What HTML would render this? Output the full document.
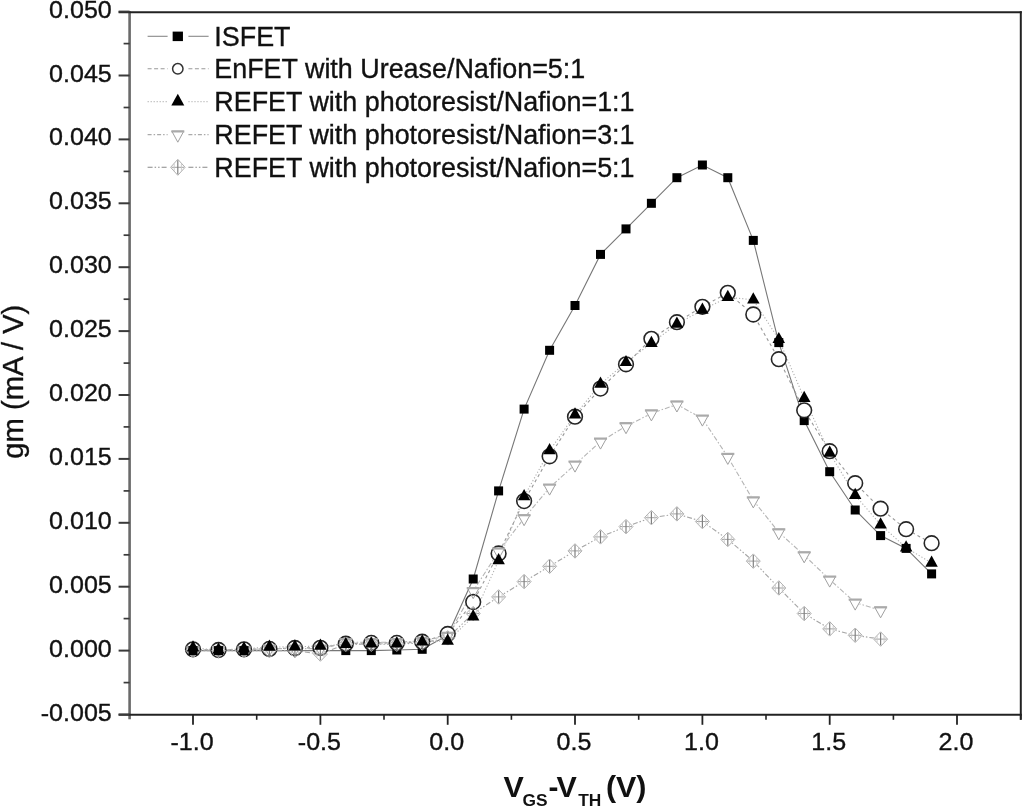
<!DOCTYPE html>
<html><head><meta charset="utf-8"><title>gm vs VGS-VTH</title>
<style>html,body{margin:0;padding:0;background:#fff;}body{width:1024px;height:808px;position:relative;overflow:hidden;}</style>
</head><body>
<svg width="1024" height="808" viewBox="0 0 1024 808" style="position:absolute;left:0;top:0;filter:blur(0.35px)">
<rect width="1024" height="808" fill="#fff"/>
<polyline points="193.0,650.6 218.5,650.6 244.0,650.6 269.4,650.6 294.9,650.6 320.4,650.6 345.8,650.6 371.3,650.6 396.8,650.0 422.2,649.3 447.7,635.3 473.2,579.0 498.6,490.9 524.1,409.1 549.6,350.3 575.0,305.5 600.5,254.4 626.0,228.9 651.4,203.3 676.9,177.7 702.4,165.0 727.8,177.7 753.3,240.4 778.8,342.6 804.2,420.6 829.7,471.7 855.2,510.0 880.6,535.6 906.1,548.4 931.6,573.9" fill="none" stroke="#777" stroke-width="1.1"/>
<polyline points="193.0,649.3 218.5,650.0 244.0,649.3 269.4,648.9 294.9,648.0 320.4,647.8 345.8,643.7 371.3,642.9 396.8,642.9 422.2,641.7 447.7,634.0 473.2,602.0 498.6,553.5 524.1,501.1 549.6,456.3 575.0,416.7 600.5,388.6 626.0,364.3 651.4,338.8 676.9,322.2 702.4,306.8 727.8,292.8 753.3,314.5 778.8,359.2 804.2,410.3 829.7,451.2 855.2,483.2 880.6,508.7 906.1,529.2 931.6,543.2" fill="none" stroke="#999" stroke-width="1.1" stroke-dasharray="3 3"/>
<polyline points="193.0,647.8 218.5,650.1 244.0,648.7 269.4,647.1 294.9,646.7 320.4,646.1 345.8,644.4 371.3,643.8 396.8,643.8 422.2,641.8 447.7,641.0 473.2,616.7 498.6,560.5 524.1,496.6 549.6,450.6 575.0,414.8 600.5,384.1 626.0,362.4 651.4,343.2 676.9,324.1 702.4,310.0 727.8,297.2 753.3,299.8 778.8,339.4 804.2,398.2 829.7,453.1 855.2,495.3 880.6,524.7 906.1,547.7 931.6,563.0" fill="none" stroke="#b0b0b0" stroke-width="1.1" stroke-dasharray="1.2 2"/>
<defs><mask id="m4" maskUnits="userSpaceOnUse" x="0" y="0" width="1024" height="808"><rect width="1024" height="808" fill="#fff"/><polygon points="185.5,645.7 200.5,645.7 193.0,658.7" fill="#000"/><polygon points="211.0,645.7 226.0,645.7 218.5,658.7" fill="#000"/><polygon points="236.5,645.7 251.5,645.7 244.0,658.7" fill="#000"/><polygon points="261.9,644.4 276.9,644.4 269.4,657.4" fill="#000"/><polygon points="287.4,644.4 302.4,644.4 294.9,657.4" fill="#000"/><polygon points="312.9,644.4 327.9,644.4 320.4,657.4" fill="#000"/><polygon points="338.3,638.0 353.3,638.0 345.8,651.0" fill="#000"/><polygon points="363.8,638.0 378.8,638.0 371.3,651.0" fill="#000"/><polygon points="389.3,638.0 404.3,638.0 396.8,651.0" fill="#000"/><polygon points="414.7,636.7 429.7,636.7 422.2,649.7" fill="#000"/><polygon points="440.2,631.6 455.2,631.6 447.7,644.6" fill="#000"/><polygon points="465.7,586.9 480.7,586.9 473.2,599.9" fill="#000"/><polygon points="491.1,547.3 506.1,547.3 498.6,560.3" fill="#000"/><polygon points="516.6,514.0 531.6,514.0 524.1,527.0" fill="#000"/><polygon points="542.1,483.4 557.1,483.4 549.6,496.4" fill="#000"/><polygon points="567.5,460.4 582.5,460.4 575.0,473.4" fill="#000"/><polygon points="593.0,437.4 608.0,437.4 600.5,450.4" fill="#000"/><polygon points="618.5,422.0 633.5,422.0 626.0,435.0" fill="#000"/><polygon points="643.9,409.2 658.9,409.2 651.4,422.2" fill="#000"/><polygon points="669.4,400.3 684.4,400.3 676.9,413.3" fill="#000"/><polygon points="694.9,414.4 709.9,414.4 702.4,427.4" fill="#000"/><polygon points="720.3,452.7 735.3,452.7 727.8,465.7" fill="#000"/><polygon points="745.8,496.2 760.8,496.2 753.3,509.2" fill="#000"/><polygon points="771.3,528.1 786.3,528.1 778.8,541.1" fill="#000"/><polygon points="796.7,551.1 811.7,551.1 804.2,564.1" fill="#000"/><polygon points="822.2,575.4 837.2,575.4 829.7,588.4" fill="#000"/><polygon points="847.7,598.4 862.7,598.4 855.2,611.4" fill="#000"/><polygon points="873.1,606.1 888.1,606.1 880.6,619.1" fill="#000"/></mask><mask id="m5" maskUnits="userSpaceOnUse" x="0" y="0" width="1024" height="808"><rect width="1024" height="808" fill="#fff"/><polygon points="193.0,642.6 200.8,650.6 193.0,658.6 185.2,650.6" fill="#000"/><polygon points="218.5,642.6 226.3,650.6 218.5,658.6 210.7,650.6" fill="#000"/><polygon points="244.0,642.6 251.8,650.6 244.0,658.6 236.2,650.6" fill="#000"/><polygon points="269.4,642.6 277.2,650.6 269.4,658.6 261.6,650.6" fill="#000"/><polygon points="294.9,642.6 302.7,650.6 294.9,658.6 287.1,650.6" fill="#000"/><polygon points="320.4,646.1 328.2,654.1 320.4,662.1 312.6,654.1" fill="#000"/><polygon points="345.8,636.2 353.6,644.2 345.8,652.2 338.0,644.2" fill="#000"/><polygon points="371.3,636.2 379.1,644.2 371.3,652.2 363.5,644.2" fill="#000"/><polygon points="396.8,636.2 404.6,644.2 396.8,652.2 389.0,644.2" fill="#000"/><polygon points="422.2,634.9 430.0,642.9 422.2,650.9 414.4,642.9" fill="#000"/><polygon points="447.7,629.8 455.5,637.8 447.7,645.8 439.9,637.8" fill="#000"/><polygon points="473.2,605.5 481.0,613.5 473.2,621.5 465.4,613.5" fill="#000"/><polygon points="498.6,588.9 506.4,596.9 498.6,604.9 490.8,596.9" fill="#000"/><polygon points="524.1,573.6 531.9,581.6 524.1,589.6 516.3,581.6" fill="#000"/><polygon points="549.6,558.3 557.4,566.3 549.6,574.3 541.8,566.3" fill="#000"/><polygon points="575.0,542.9 582.8,550.9 575.0,558.9 567.2,550.9" fill="#000"/><polygon points="600.5,528.9 608.3,536.9 600.5,544.9 592.7,536.9" fill="#000"/><polygon points="626.0,518.6 633.8,526.6 626.0,534.6 618.2,526.6" fill="#000"/><polygon points="651.4,509.7 659.2,517.7 651.4,525.7 643.6,517.7" fill="#000"/><polygon points="676.9,505.9 684.7,513.9 676.9,521.9 669.1,513.9" fill="#000"/><polygon points="702.4,513.5 710.2,521.5 702.4,529.5 694.6,521.5" fill="#000"/><polygon points="727.8,531.4 735.6,539.4 727.8,547.4 720.0,539.4" fill="#000"/><polygon points="753.3,553.1 761.1,561.1 753.3,569.1 745.5,561.1" fill="#000"/><polygon points="778.8,580.0 786.6,588.0 778.8,596.0 771.0,588.0" fill="#000"/><polygon points="804.2,605.5 812.0,613.5 804.2,621.5 796.4,613.5" fill="#000"/><polygon points="829.7,620.9 837.5,628.9 829.7,636.9 821.9,628.9" fill="#000"/><polygon points="855.2,627.3 863.0,635.3 855.2,643.3 847.4,635.3" fill="#000"/><polygon points="880.6,631.1 888.4,639.1 880.6,647.1 872.8,639.1" fill="#000"/></mask></defs>
<polyline points="193.0,649.9 218.5,649.9 244.0,649.9 269.4,648.6 294.9,648.6 320.4,648.6 345.8,642.2 371.3,642.2 396.8,642.2 422.2,640.9 447.7,635.8 473.2,591.1 498.6,551.5 524.1,518.2 549.6,487.6 575.0,464.6 600.5,441.6 626.0,426.2 651.4,413.4 676.9,404.5 702.4,418.6 727.8,456.9 753.3,500.4 778.8,532.3 804.2,555.3 829.7,579.6 855.2,602.6 880.6,610.3" mask="url(#m4)" fill="none" stroke="#b5b5b5" stroke-width="1.1" stroke-dasharray="5 2 1.5 2"/>
<polyline points="193.0,650.6 218.5,650.6 244.0,650.6 269.4,650.6 294.9,650.6 320.4,654.1 345.8,644.2 371.3,644.2 396.8,644.2 422.2,642.9 447.7,637.8 473.2,613.5 498.6,596.9 524.1,581.6 549.6,566.3 575.0,550.9 600.5,536.9 626.0,526.6 651.4,517.7 676.9,513.9 702.4,521.5 727.8,539.4 753.3,561.1 778.8,588.0 804.2,613.5 829.7,628.9 855.2,635.3 880.6,639.1" mask="url(#m5)" fill="none" stroke="#a5a5a5" stroke-width="1.1" stroke-dasharray="5 2 1.5 2 1.5 2"/>
<rect x="264.9" y="646.1" width="9.0" height="9.0" fill="#000"/>
<rect x="290.4" y="646.1" width="9.0" height="9.0" fill="#000"/>
<rect x="315.9" y="646.1" width="9.0" height="9.0" fill="#000"/>
<rect x="341.3" y="646.1" width="9.0" height="9.0" fill="#000"/>
<rect x="366.8" y="646.1" width="9.0" height="9.0" fill="#000"/>
<rect x="392.3" y="645.5" width="9.0" height="9.0" fill="#000"/>
<rect x="417.7" y="644.8" width="9.0" height="9.0" fill="#000"/>
<rect x="443.2" y="630.8" width="9.0" height="9.0" fill="#000"/>
<rect x="468.7" y="574.5" width="9.0" height="9.0" fill="#000"/>
<rect x="494.1" y="486.4" width="9.0" height="9.0" fill="#000"/>
<rect x="519.6" y="404.6" width="9.0" height="9.0" fill="#000"/>
<rect x="545.1" y="345.8" width="9.0" height="9.0" fill="#000"/>
<rect x="570.5" y="301.0" width="9.0" height="9.0" fill="#000"/>
<rect x="596.0" y="249.9" width="9.0" height="9.0" fill="#000"/>
<rect x="621.5" y="224.4" width="9.0" height="9.0" fill="#000"/>
<rect x="646.9" y="198.8" width="9.0" height="9.0" fill="#000"/>
<rect x="672.4" y="173.2" width="9.0" height="9.0" fill="#000"/>
<rect x="697.9" y="160.5" width="9.0" height="9.0" fill="#000"/>
<rect x="723.3" y="173.2" width="9.0" height="9.0" fill="#000"/>
<rect x="748.8" y="235.9" width="9.0" height="9.0" fill="#000"/>
<rect x="774.3" y="338.1" width="9.0" height="9.0" fill="#000"/>
<rect x="799.7" y="416.1" width="9.0" height="9.0" fill="#000"/>
<rect x="825.2" y="467.2" width="9.0" height="9.0" fill="#000"/>
<rect x="850.7" y="505.5" width="9.0" height="9.0" fill="#000"/>
<rect x="876.1" y="531.1" width="9.0" height="9.0" fill="#000"/>
<rect x="901.6" y="543.9" width="9.0" height="9.0" fill="#000"/>
<rect x="927.1" y="569.4" width="9.0" height="9.0" fill="#000"/>
<circle cx="193.0" cy="649.3" r="7.35" fill="#fff" stroke="#262626" stroke-width="1.6"/>
<circle cx="218.5" cy="650.0" r="7.35" fill="#fff" stroke="#262626" stroke-width="1.6"/>
<circle cx="244.0" cy="649.3" r="7.35" fill="#fff" stroke="#262626" stroke-width="1.6"/>
<circle cx="269.4" cy="648.9" r="7.35" fill="#fff" stroke="#262626" stroke-width="1.6"/>
<circle cx="294.9" cy="648.0" r="7.35" fill="#fff" stroke="#262626" stroke-width="1.6"/>
<circle cx="320.4" cy="647.8" r="7.35" fill="#fff" stroke="#262626" stroke-width="1.6"/>
<circle cx="345.8" cy="643.7" r="7.35" fill="#fff" stroke="#262626" stroke-width="1.6"/>
<circle cx="371.3" cy="642.9" r="7.35" fill="#fff" stroke="#262626" stroke-width="1.6"/>
<circle cx="396.8" cy="642.9" r="7.35" fill="#fff" stroke="#262626" stroke-width="1.6"/>
<circle cx="422.2" cy="641.7" r="7.35" fill="#fff" stroke="#262626" stroke-width="1.6"/>
<circle cx="447.7" cy="634.0" r="7.35" fill="#fff" stroke="#262626" stroke-width="1.6"/>
<circle cx="473.2" cy="602.0" r="7.35" fill="#fff" stroke="#262626" stroke-width="1.6"/>
<circle cx="498.6" cy="553.5" r="7.35" fill="#fff" stroke="#262626" stroke-width="1.6"/>
<circle cx="524.1" cy="501.1" r="7.35" fill="#fff" stroke="#262626" stroke-width="1.6"/>
<circle cx="549.6" cy="456.3" r="7.35" fill="#fff" stroke="#262626" stroke-width="1.6"/>
<circle cx="575.0" cy="416.7" r="7.35" fill="#fff" stroke="#262626" stroke-width="1.6"/>
<circle cx="600.5" cy="388.6" r="7.35" fill="#fff" stroke="#262626" stroke-width="1.6"/>
<circle cx="626.0" cy="364.3" r="7.35" fill="#fff" stroke="#262626" stroke-width="1.6"/>
<circle cx="651.4" cy="338.8" r="7.35" fill="#fff" stroke="#262626" stroke-width="1.6"/>
<circle cx="676.9" cy="322.2" r="7.35" fill="#fff" stroke="#262626" stroke-width="1.6"/>
<circle cx="702.4" cy="306.8" r="7.35" fill="#fff" stroke="#262626" stroke-width="1.6"/>
<circle cx="727.8" cy="292.8" r="7.35" fill="#fff" stroke="#262626" stroke-width="1.6"/>
<circle cx="753.3" cy="314.5" r="7.35" fill="#fff" stroke="#262626" stroke-width="1.6"/>
<circle cx="778.8" cy="359.2" r="7.35" fill="#fff" stroke="#262626" stroke-width="1.6"/>
<circle cx="804.2" cy="410.3" r="7.35" fill="#fff" stroke="#262626" stroke-width="1.6"/>
<circle cx="829.7" cy="451.2" r="7.35" fill="#fff" stroke="#262626" stroke-width="1.6"/>
<circle cx="855.2" cy="483.2" r="7.35" fill="#fff" stroke="#262626" stroke-width="1.6"/>
<circle cx="880.6" cy="508.7" r="7.35" fill="#fff" stroke="#262626" stroke-width="1.6"/>
<circle cx="906.1" cy="529.2" r="7.35" fill="#fff" stroke="#262626" stroke-width="1.6"/>
<circle cx="931.6" cy="543.2" r="7.35" fill="#fff" stroke="#262626" stroke-width="1.6"/>
<polygon points="187.1,646.8 198.9,646.8 193.0,657.4" fill="none" stroke="#a0a0a0" stroke-width="1.0"/><line x1="186.5" y1="646.9" x2="199.5" y2="646.9" stroke="#aaa" stroke-width="2.2"/>
<polygon points="212.6,646.8 224.4,646.8 218.5,657.4" fill="none" stroke="#a0a0a0" stroke-width="1.0"/><line x1="212.0" y1="646.9" x2="225.0" y2="646.9" stroke="#aaa" stroke-width="2.2"/>
<polygon points="238.1,646.8 249.9,646.8 244.0,657.4" fill="none" stroke="#a0a0a0" stroke-width="1.0"/><line x1="237.5" y1="646.9" x2="250.5" y2="646.9" stroke="#aaa" stroke-width="2.2"/>
<polygon points="263.5,645.5 275.3,645.5 269.4,656.1" fill="none" stroke="#a0a0a0" stroke-width="1.0"/><line x1="262.9" y1="645.6" x2="275.9" y2="645.6" stroke="#aaa" stroke-width="2.2"/>
<polygon points="289.0,645.5 300.8,645.5 294.9,656.1" fill="none" stroke="#a0a0a0" stroke-width="1.0"/><line x1="288.4" y1="645.6" x2="301.4" y2="645.6" stroke="#aaa" stroke-width="2.2"/>
<polygon points="314.5,645.5 326.3,645.5 320.4,656.1" fill="none" stroke="#a0a0a0" stroke-width="1.0"/><line x1="313.9" y1="645.6" x2="326.9" y2="645.6" stroke="#aaa" stroke-width="2.2"/>
<polygon points="339.9,639.1 351.7,639.1 345.8,649.7" fill="none" stroke="#a0a0a0" stroke-width="1.0"/><line x1="339.3" y1="639.2" x2="352.3" y2="639.2" stroke="#aaa" stroke-width="2.2"/>
<polygon points="365.4,639.1 377.2,639.1 371.3,649.7" fill="none" stroke="#a0a0a0" stroke-width="1.0"/><line x1="364.8" y1="639.2" x2="377.8" y2="639.2" stroke="#aaa" stroke-width="2.2"/>
<polygon points="390.9,639.1 402.7,639.1 396.8,649.7" fill="none" stroke="#a0a0a0" stroke-width="1.0"/><line x1="390.3" y1="639.2" x2="403.3" y2="639.2" stroke="#aaa" stroke-width="2.2"/>
<polygon points="416.3,637.8 428.1,637.8 422.2,648.4" fill="none" stroke="#a0a0a0" stroke-width="1.0"/><line x1="415.7" y1="637.9" x2="428.7" y2="637.9" stroke="#aaa" stroke-width="2.2"/>
<polygon points="441.8,632.7 453.6,632.7 447.7,643.3" fill="none" stroke="#a0a0a0" stroke-width="1.0"/><line x1="441.2" y1="632.8" x2="454.2" y2="632.8" stroke="#aaa" stroke-width="2.2"/>
<polygon points="467.3,588.0 479.1,588.0 473.2,598.6" fill="none" stroke="#a0a0a0" stroke-width="1.0"/><line x1="466.7" y1="588.1" x2="479.7" y2="588.1" stroke="#aaa" stroke-width="2.2"/>
<polygon points="492.7,548.4 504.5,548.4 498.6,559.0" fill="none" stroke="#a0a0a0" stroke-width="1.0"/><line x1="492.1" y1="548.5" x2="505.1" y2="548.5" stroke="#aaa" stroke-width="2.2"/>
<polygon points="518.2,515.1 530.0,515.1 524.1,525.7" fill="none" stroke="#a0a0a0" stroke-width="1.0"/><line x1="517.6" y1="515.2" x2="530.6" y2="515.2" stroke="#aaa" stroke-width="2.2"/>
<polygon points="543.7,484.5 555.5,484.5 549.6,495.1" fill="none" stroke="#a0a0a0" stroke-width="1.0"/><line x1="543.1" y1="484.6" x2="556.1" y2="484.6" stroke="#aaa" stroke-width="2.2"/>
<polygon points="569.1,461.5 580.9,461.5 575.0,472.1" fill="none" stroke="#a0a0a0" stroke-width="1.0"/><line x1="568.5" y1="461.6" x2="581.5" y2="461.6" stroke="#aaa" stroke-width="2.2"/>
<polygon points="594.6,438.5 606.4,438.5 600.5,449.1" fill="none" stroke="#a0a0a0" stroke-width="1.0"/><line x1="594.0" y1="438.6" x2="607.0" y2="438.6" stroke="#aaa" stroke-width="2.2"/>
<polygon points="620.1,423.1 631.9,423.1 626.0,433.7" fill="none" stroke="#a0a0a0" stroke-width="1.0"/><line x1="619.5" y1="423.2" x2="632.5" y2="423.2" stroke="#aaa" stroke-width="2.2"/>
<polygon points="645.5,410.3 657.3,410.3 651.4,420.9" fill="none" stroke="#a0a0a0" stroke-width="1.0"/><line x1="644.9" y1="410.4" x2="657.9" y2="410.4" stroke="#aaa" stroke-width="2.2"/>
<polygon points="671.0,401.4 682.8,401.4 676.9,412.0" fill="none" stroke="#a0a0a0" stroke-width="1.0"/><line x1="670.4" y1="401.5" x2="683.4" y2="401.5" stroke="#aaa" stroke-width="2.2"/>
<polygon points="696.5,415.5 708.3,415.5 702.4,426.1" fill="none" stroke="#a0a0a0" stroke-width="1.0"/><line x1="695.9" y1="415.6" x2="708.9" y2="415.6" stroke="#aaa" stroke-width="2.2"/>
<polygon points="721.9,453.8 733.7,453.8 727.8,464.4" fill="none" stroke="#a0a0a0" stroke-width="1.0"/><line x1="721.3" y1="453.9" x2="734.3" y2="453.9" stroke="#aaa" stroke-width="2.2"/>
<polygon points="747.4,497.3 759.2,497.3 753.3,507.9" fill="none" stroke="#a0a0a0" stroke-width="1.0"/><line x1="746.8" y1="497.4" x2="759.8" y2="497.4" stroke="#aaa" stroke-width="2.2"/>
<polygon points="772.9,529.2 784.7,529.2 778.8,539.8" fill="none" stroke="#a0a0a0" stroke-width="1.0"/><line x1="772.3" y1="529.3" x2="785.3" y2="529.3" stroke="#aaa" stroke-width="2.2"/>
<polygon points="798.3,552.2 810.1,552.2 804.2,562.8" fill="none" stroke="#a0a0a0" stroke-width="1.0"/><line x1="797.7" y1="552.3" x2="810.7" y2="552.3" stroke="#aaa" stroke-width="2.2"/>
<polygon points="823.8,576.5 835.6,576.5 829.7,587.1" fill="none" stroke="#a0a0a0" stroke-width="1.0"/><line x1="823.2" y1="576.6" x2="836.2" y2="576.6" stroke="#aaa" stroke-width="2.2"/>
<polygon points="849.3,599.5 861.1,599.5 855.2,610.1" fill="none" stroke="#a0a0a0" stroke-width="1.0"/><line x1="848.7" y1="599.6" x2="861.7" y2="599.6" stroke="#aaa" stroke-width="2.2"/>
<polygon points="874.7,607.2 886.5,607.2 880.6,617.8" fill="none" stroke="#a0a0a0" stroke-width="1.0"/><line x1="874.1" y1="607.3" x2="887.1" y2="607.3" stroke="#aaa" stroke-width="2.2"/>
<polygon points="193.0,643.4 200.0,650.6 193.0,657.9 186.0,650.6" fill="none" stroke="#b0b0b0" stroke-width="1.0"/><path d="M187.0,650.6H199.0" stroke="#a0a0a0" stroke-width="1.0"/><path d="M193.0,644.4V656.9" stroke="#808080" stroke-width="1.2"/><path d="M189.5,647.5V653.7M196.5,647.5V653.7" stroke="#c8c8c8" stroke-width="0.9"/>
<polygon points="218.5,643.4 225.5,650.6 218.5,657.9 211.5,650.6" fill="none" stroke="#b0b0b0" stroke-width="1.0"/><path d="M212.5,650.6H224.5" stroke="#a0a0a0" stroke-width="1.0"/><path d="M218.5,644.4V656.9" stroke="#808080" stroke-width="1.2"/><path d="M215.0,647.5V653.7M222.0,647.5V653.7" stroke="#c8c8c8" stroke-width="0.9"/>
<polygon points="244.0,643.4 251.0,650.6 244.0,657.9 237.0,650.6" fill="none" stroke="#b0b0b0" stroke-width="1.0"/><path d="M238.0,650.6H250.0" stroke="#a0a0a0" stroke-width="1.0"/><path d="M244.0,644.4V656.9" stroke="#808080" stroke-width="1.2"/><path d="M240.5,647.5V653.7M247.5,647.5V653.7" stroke="#c8c8c8" stroke-width="0.9"/>
<polygon points="269.4,643.4 276.4,650.6 269.4,657.9 262.4,650.6" fill="none" stroke="#b0b0b0" stroke-width="1.0"/><path d="M263.4,650.6H275.4" stroke="#a0a0a0" stroke-width="1.0"/><path d="M269.4,644.4V656.9" stroke="#808080" stroke-width="1.2"/><path d="M265.9,647.5V653.7M272.9,647.5V653.7" stroke="#c8c8c8" stroke-width="0.9"/>
<polygon points="294.9,643.4 301.9,650.6 294.9,657.9 287.9,650.6" fill="none" stroke="#b0b0b0" stroke-width="1.0"/><path d="M288.9,650.6H300.9" stroke="#a0a0a0" stroke-width="1.0"/><path d="M294.9,644.4V656.9" stroke="#808080" stroke-width="1.2"/><path d="M291.4,647.5V653.7M298.4,647.5V653.7" stroke="#c8c8c8" stroke-width="0.9"/>
<polygon points="320.4,646.8 327.4,654.1 320.4,661.3 313.4,654.1" fill="none" stroke="#b0b0b0" stroke-width="1.0"/><path d="M314.4,654.1H326.4" stroke="#a0a0a0" stroke-width="1.0"/><path d="M320.4,647.8V660.3" stroke="#808080" stroke-width="1.2"/><path d="M316.9,650.9V657.2M323.9,650.9V657.2" stroke="#c8c8c8" stroke-width="0.9"/>
<polygon points="345.8,637.0 352.8,644.2 345.8,651.5 338.8,644.2" fill="none" stroke="#b0b0b0" stroke-width="1.0"/><path d="M339.8,644.2H351.8" stroke="#a0a0a0" stroke-width="1.0"/><path d="M345.8,638.0V650.5" stroke="#808080" stroke-width="1.2"/><path d="M342.3,641.1V647.3M349.3,641.1V647.3" stroke="#c8c8c8" stroke-width="0.9"/>
<polygon points="371.3,637.0 378.3,644.2 371.3,651.5 364.3,644.2" fill="none" stroke="#b0b0b0" stroke-width="1.0"/><path d="M365.3,644.2H377.3" stroke="#a0a0a0" stroke-width="1.0"/><path d="M371.3,638.0V650.5" stroke="#808080" stroke-width="1.2"/><path d="M367.8,641.1V647.3M374.8,641.1V647.3" stroke="#c8c8c8" stroke-width="0.9"/>
<polygon points="396.8,637.0 403.8,644.2 396.8,651.5 389.8,644.2" fill="none" stroke="#b0b0b0" stroke-width="1.0"/><path d="M390.8,644.2H402.8" stroke="#a0a0a0" stroke-width="1.0"/><path d="M396.8,638.0V650.5" stroke="#808080" stroke-width="1.2"/><path d="M393.3,641.1V647.3M400.3,641.1V647.3" stroke="#c8c8c8" stroke-width="0.9"/>
<polygon points="422.2,635.7 429.2,642.9 422.2,650.2 415.2,642.9" fill="none" stroke="#b0b0b0" stroke-width="1.0"/><path d="M416.2,642.9H428.2" stroke="#a0a0a0" stroke-width="1.0"/><path d="M422.2,636.7V649.2" stroke="#808080" stroke-width="1.2"/><path d="M418.7,639.8V646.1M425.7,639.8V646.1" stroke="#c8c8c8" stroke-width="0.9"/>
<polygon points="447.7,630.6 454.7,637.8 447.7,645.1 440.7,637.8" fill="none" stroke="#b0b0b0" stroke-width="1.0"/><path d="M441.7,637.8H453.7" stroke="#a0a0a0" stroke-width="1.0"/><path d="M447.7,631.6V644.1" stroke="#808080" stroke-width="1.2"/><path d="M444.2,634.7V640.9M451.2,634.7V640.9" stroke="#c8c8c8" stroke-width="0.9"/>
<polygon points="473.2,606.3 480.2,613.5 473.2,620.8 466.2,613.5" fill="none" stroke="#b0b0b0" stroke-width="1.0"/><path d="M467.2,613.5H479.2" stroke="#a0a0a0" stroke-width="1.0"/><path d="M473.2,607.3V619.8" stroke="#808080" stroke-width="1.2"/><path d="M469.7,610.4V616.7M476.7,610.4V616.7" stroke="#c8c8c8" stroke-width="0.9"/>
<polygon points="498.6,589.7 505.6,596.9 498.6,604.2 491.6,596.9" fill="none" stroke="#b0b0b0" stroke-width="1.0"/><path d="M492.6,596.9H504.6" stroke="#a0a0a0" stroke-width="1.0"/><path d="M498.6,590.7V603.2" stroke="#808080" stroke-width="1.2"/><path d="M495.1,593.8V600.0M502.1,593.8V600.0" stroke="#c8c8c8" stroke-width="0.9"/>
<polygon points="524.1,574.3 531.1,581.6 524.1,588.8 517.1,581.6" fill="none" stroke="#b0b0b0" stroke-width="1.0"/><path d="M518.1,581.6H530.1" stroke="#a0a0a0" stroke-width="1.0"/><path d="M524.1,575.3V587.8" stroke="#808080" stroke-width="1.2"/><path d="M520.6,578.5V584.7M527.6,578.5V584.7" stroke="#c8c8c8" stroke-width="0.9"/>
<polygon points="549.6,559.0 556.6,566.3 549.6,573.5 542.6,566.3" fill="none" stroke="#b0b0b0" stroke-width="1.0"/><path d="M543.6,566.3H555.6" stroke="#a0a0a0" stroke-width="1.0"/><path d="M549.6,560.0V572.5" stroke="#808080" stroke-width="1.2"/><path d="M546.1,563.1V569.4M553.1,563.1V569.4" stroke="#c8c8c8" stroke-width="0.9"/>
<polygon points="575.0,543.7 582.0,550.9 575.0,558.2 568.0,550.9" fill="none" stroke="#b0b0b0" stroke-width="1.0"/><path d="M569.0,550.9H581.0" stroke="#a0a0a0" stroke-width="1.0"/><path d="M575.0,544.7V557.2" stroke="#808080" stroke-width="1.2"/><path d="M571.5,547.8V554.0M578.5,547.8V554.0" stroke="#c8c8c8" stroke-width="0.9"/>
<polygon points="600.5,529.6 607.5,536.9 600.5,544.1 593.5,536.9" fill="none" stroke="#b0b0b0" stroke-width="1.0"/><path d="M594.5,536.9H606.5" stroke="#a0a0a0" stroke-width="1.0"/><path d="M600.5,530.6V543.1" stroke="#808080" stroke-width="1.2"/><path d="M597.0,533.7V540.0M604.0,533.7V540.0" stroke="#c8c8c8" stroke-width="0.9"/>
<polygon points="626.0,519.4 633.0,526.6 626.0,533.9 619.0,526.6" fill="none" stroke="#b0b0b0" stroke-width="1.0"/><path d="M620.0,526.6H632.0" stroke="#a0a0a0" stroke-width="1.0"/><path d="M626.0,520.4V532.9" stroke="#808080" stroke-width="1.2"/><path d="M622.5,523.5V529.8M629.5,523.5V529.8" stroke="#c8c8c8" stroke-width="0.9"/>
<polygon points="651.4,510.4 658.4,517.7 651.4,524.9 644.4,517.7" fill="none" stroke="#b0b0b0" stroke-width="1.0"/><path d="M645.4,517.7H657.4" stroke="#a0a0a0" stroke-width="1.0"/><path d="M651.4,511.4V523.9" stroke="#808080" stroke-width="1.2"/><path d="M647.9,514.6V520.8M654.9,514.6V520.8" stroke="#c8c8c8" stroke-width="0.9"/>
<polygon points="676.9,506.6 683.9,513.9 676.9,521.1 669.9,513.9" fill="none" stroke="#b0b0b0" stroke-width="1.0"/><path d="M670.9,513.9H682.9" stroke="#a0a0a0" stroke-width="1.0"/><path d="M676.9,507.6V520.1" stroke="#808080" stroke-width="1.2"/><path d="M673.4,510.7V517.0M680.4,510.7V517.0" stroke="#c8c8c8" stroke-width="0.9"/>
<polygon points="702.4,514.3 709.4,521.5 702.4,528.8 695.4,521.5" fill="none" stroke="#b0b0b0" stroke-width="1.0"/><path d="M696.4,521.5H708.4" stroke="#a0a0a0" stroke-width="1.0"/><path d="M702.4,515.3V527.8" stroke="#808080" stroke-width="1.2"/><path d="M698.9,518.4V524.6M705.9,518.4V524.6" stroke="#c8c8c8" stroke-width="0.9"/>
<polygon points="727.8,532.2 734.8,539.4 727.8,546.7 720.8,539.4" fill="none" stroke="#b0b0b0" stroke-width="1.0"/><path d="M721.8,539.4H733.8" stroke="#a0a0a0" stroke-width="1.0"/><path d="M727.8,533.2V545.7" stroke="#808080" stroke-width="1.2"/><path d="M724.3,536.3V542.5M731.3,536.3V542.5" stroke="#c8c8c8" stroke-width="0.9"/>
<polygon points="753.3,553.9 760.3,561.1 753.3,568.4 746.3,561.1" fill="none" stroke="#b0b0b0" stroke-width="1.0"/><path d="M747.3,561.1H759.3" stroke="#a0a0a0" stroke-width="1.0"/><path d="M753.3,554.9V567.4" stroke="#808080" stroke-width="1.2"/><path d="M749.8,558.0V564.3M756.8,558.0V564.3" stroke="#c8c8c8" stroke-width="0.9"/>
<polygon points="778.8,580.7 785.8,588.0 778.8,595.2 771.8,588.0" fill="none" stroke="#b0b0b0" stroke-width="1.0"/><path d="M772.8,588.0H784.8" stroke="#a0a0a0" stroke-width="1.0"/><path d="M778.8,581.7V594.2" stroke="#808080" stroke-width="1.2"/><path d="M775.3,584.9V591.1M782.3,584.9V591.1" stroke="#c8c8c8" stroke-width="0.9"/>
<polygon points="804.2,606.3 811.2,613.5 804.2,620.8 797.2,613.5" fill="none" stroke="#b0b0b0" stroke-width="1.0"/><path d="M798.2,613.5H810.2" stroke="#a0a0a0" stroke-width="1.0"/><path d="M804.2,607.3V619.8" stroke="#808080" stroke-width="1.2"/><path d="M800.7,610.4V616.7M807.7,610.4V616.7" stroke="#c8c8c8" stroke-width="0.9"/>
<polygon points="829.7,621.6 836.7,628.9 829.7,636.1 822.7,628.9" fill="none" stroke="#b0b0b0" stroke-width="1.0"/><path d="M823.7,628.9H835.7" stroke="#a0a0a0" stroke-width="1.0"/><path d="M829.7,622.6V635.1" stroke="#808080" stroke-width="1.2"/><path d="M826.2,625.7V632.0M833.2,625.7V632.0" stroke="#c8c8c8" stroke-width="0.9"/>
<polygon points="855.2,628.0 862.2,635.3 855.2,642.5 848.2,635.3" fill="none" stroke="#b0b0b0" stroke-width="1.0"/><path d="M849.2,635.3H861.2" stroke="#a0a0a0" stroke-width="1.0"/><path d="M855.2,629.0V641.5" stroke="#808080" stroke-width="1.2"/><path d="M851.7,632.1V638.4M858.7,632.1V638.4" stroke="#c8c8c8" stroke-width="0.9"/>
<polygon points="880.6,631.8 887.6,639.1 880.6,646.3 873.6,639.1" fill="none" stroke="#b0b0b0" stroke-width="1.0"/><path d="M874.6,639.1H886.6" stroke="#a0a0a0" stroke-width="1.0"/><path d="M880.6,632.8V645.3" stroke="#808080" stroke-width="1.2"/><path d="M877.1,636.0V642.2M884.1,636.0V642.2" stroke="#c8c8c8" stroke-width="0.9"/>
<rect x="188.5" y="646.1" width="9.0" height="9.0" fill="#000"/>
<rect x="214.0" y="646.1" width="9.0" height="9.0" fill="#000"/>
<rect x="239.5" y="646.1" width="9.0" height="9.0" fill="#000"/>
<polygon points="186.8,651.5 199.3,651.5 193.0,640.3" fill="#000"/>
<polygon points="212.2,653.8 224.7,653.8 218.5,642.6" fill="#000"/>
<polygon points="237.7,652.4 250.2,652.4 244.0,641.2" fill="#000"/>
<polygon points="263.2,650.8 275.7,650.8 269.4,639.6" fill="#000"/>
<polygon points="288.6,650.4 301.1,650.4 294.9,639.2" fill="#000"/>
<polygon points="314.1,649.8 326.6,649.8 320.4,638.6" fill="#000"/>
<polygon points="339.6,648.1 352.1,648.1 345.8,636.9" fill="#000"/>
<polygon points="365.0,647.5 377.5,647.5 371.3,636.3" fill="#000"/>
<polygon points="390.5,647.5 403.0,647.5 396.8,636.3" fill="#000"/>
<polygon points="416.0,645.5 428.5,645.5 422.2,634.3" fill="#000"/>
<polygon points="441.4,644.7 453.9,644.7 447.7,633.5" fill="#000"/>
<polygon points="466.9,620.4 479.4,620.4 473.2,609.2" fill="#000"/>
<polygon points="492.4,564.2 504.9,564.2 498.6,553.0" fill="#000"/>
<polygon points="517.9,500.3 530.4,500.3 524.1,489.1" fill="#000"/>
<polygon points="543.3,454.3 555.8,454.3 549.6,443.1" fill="#000"/>
<polygon points="568.8,418.5 581.3,418.5 575.0,407.3" fill="#000"/>
<polygon points="594.3,387.8 606.8,387.8 600.5,376.6" fill="#000"/>
<polygon points="619.7,366.1 632.2,366.1 626.0,354.9" fill="#000"/>
<polygon points="645.2,346.9 657.7,346.9 651.4,335.7" fill="#000"/>
<polygon points="670.7,327.8 683.2,327.8 676.9,316.6" fill="#000"/>
<polygon points="696.1,313.7 708.6,313.7 702.4,302.5" fill="#000"/>
<polygon points="721.6,300.9 734.1,300.9 727.8,289.7" fill="#000"/>
<polygon points="747.1,303.5 759.6,303.5 753.3,292.3" fill="#000"/>
<polygon points="772.5,343.1 785.0,343.1 778.8,331.9" fill="#000"/>
<polygon points="798.0,401.9 810.5,401.9 804.2,390.7" fill="#000"/>
<polygon points="823.5,456.8 836.0,456.8 829.7,445.6" fill="#000"/>
<polygon points="848.9,499.0 861.4,499.0 855.2,487.8" fill="#000"/>
<polygon points="874.4,528.4 886.9,528.4 880.6,517.2" fill="#000"/>
<polygon points="899.9,551.4 912.4,551.4 906.1,540.2" fill="#000"/>
<polygon points="925.3,566.7 937.8,566.7 931.6,555.5" fill="#000"/>
<line x1="129.6" y1="11.2" x2="129.6" y2="719.3" stroke="#6a6a6a" stroke-width="2.6"/>
<line x1="118.6" y1="12.2" x2="1021.8" y2="12.2" stroke="#222" stroke-width="2"/>
<line x1="118.6" y1="714.8" x2="1021.8" y2="714.8" stroke="#222" stroke-width="2"/>
<line x1="1020.8" y1="11.2" x2="1020.8" y2="719.8" stroke="#222" stroke-width="2"/>
<line x1="118.6" y1="714.5" x2="129.6" y2="714.5" stroke="#3a3a3a" stroke-width="2"/>
<line x1="118.6" y1="650.6" x2="129.6" y2="650.6" stroke="#3a3a3a" stroke-width="2"/>
<line x1="118.6" y1="586.7" x2="129.6" y2="586.7" stroke="#3a3a3a" stroke-width="2"/>
<line x1="118.6" y1="522.8" x2="129.6" y2="522.8" stroke="#3a3a3a" stroke-width="2"/>
<line x1="118.6" y1="458.9" x2="129.6" y2="458.9" stroke="#3a3a3a" stroke-width="2"/>
<line x1="118.6" y1="395.0" x2="129.6" y2="395.0" stroke="#3a3a3a" stroke-width="2"/>
<line x1="118.6" y1="331.1" x2="129.6" y2="331.1" stroke="#3a3a3a" stroke-width="2"/>
<line x1="118.6" y1="267.2" x2="129.6" y2="267.2" stroke="#3a3a3a" stroke-width="2"/>
<line x1="118.6" y1="203.3" x2="129.6" y2="203.3" stroke="#3a3a3a" stroke-width="2"/>
<line x1="118.6" y1="139.4" x2="129.6" y2="139.4" stroke="#3a3a3a" stroke-width="2"/>
<line x1="118.6" y1="75.5" x2="129.6" y2="75.5" stroke="#3a3a3a" stroke-width="2"/>
<line x1="118.6" y1="11.6" x2="129.6" y2="11.6" stroke="#3a3a3a" stroke-width="2"/>
<line x1="123.6" y1="682.6" x2="129.6" y2="682.6" stroke="#3a3a3a" stroke-width="1.7"/>
<line x1="123.6" y1="618.6" x2="129.6" y2="618.6" stroke="#3a3a3a" stroke-width="1.7"/>
<line x1="123.6" y1="554.8" x2="129.6" y2="554.8" stroke="#3a3a3a" stroke-width="1.7"/>
<line x1="123.6" y1="490.9" x2="129.6" y2="490.9" stroke="#3a3a3a" stroke-width="1.7"/>
<line x1="123.6" y1="426.9" x2="129.6" y2="426.9" stroke="#3a3a3a" stroke-width="1.7"/>
<line x1="123.6" y1="363.1" x2="129.6" y2="363.1" stroke="#3a3a3a" stroke-width="1.7"/>
<line x1="123.6" y1="299.2" x2="129.6" y2="299.2" stroke="#3a3a3a" stroke-width="1.7"/>
<line x1="123.6" y1="235.2" x2="129.6" y2="235.2" stroke="#3a3a3a" stroke-width="1.7"/>
<line x1="123.6" y1="171.4" x2="129.6" y2="171.4" stroke="#3a3a3a" stroke-width="1.7"/>
<line x1="123.6" y1="107.5" x2="129.6" y2="107.5" stroke="#3a3a3a" stroke-width="1.7"/>
<line x1="123.6" y1="43.6" x2="129.6" y2="43.6" stroke="#3a3a3a" stroke-width="1.7"/>
<line x1="193.0" y1="714.8" x2="193.0" y2="724.8" stroke="#222" stroke-width="1.8"/>
<line x1="320.4" y1="714.8" x2="320.4" y2="724.8" stroke="#222" stroke-width="1.8"/>
<line x1="447.7" y1="714.8" x2="447.7" y2="724.8" stroke="#222" stroke-width="1.8"/>
<line x1="575.0" y1="714.8" x2="575.0" y2="724.8" stroke="#222" stroke-width="1.8"/>
<line x1="702.4" y1="714.8" x2="702.4" y2="724.8" stroke="#222" stroke-width="1.8"/>
<line x1="829.7" y1="714.8" x2="829.7" y2="724.8" stroke="#222" stroke-width="1.8"/>
<line x1="957.0" y1="714.8" x2="957.0" y2="724.8" stroke="#222" stroke-width="1.8"/>
<line x1="256.7" y1="714.8" x2="256.7" y2="719.8" stroke="#222" stroke-width="1.6"/>
<line x1="384.0" y1="714.8" x2="384.0" y2="719.8" stroke="#222" stroke-width="1.6"/>
<line x1="511.4" y1="714.8" x2="511.4" y2="719.8" stroke="#222" stroke-width="1.6"/>
<line x1="638.7" y1="714.8" x2="638.7" y2="719.8" stroke="#222" stroke-width="1.6"/>
<line x1="766.0" y1="714.8" x2="766.0" y2="719.8" stroke="#222" stroke-width="1.6"/>
<line x1="893.4" y1="714.8" x2="893.4" y2="719.8" stroke="#222" stroke-width="1.6"/>
<line x1="1020.7" y1="714.8" x2="1020.7" y2="719.8" stroke="#222" stroke-width="1.6"/>
<text transform="translate(111.8,720.5) scale(1.045,1)" text-anchor="end" font-size="24" font-family="Liberation Sans, Arial, sans-serif" fill="#111" stroke="#111" stroke-width="0.35">-0.005</text>
<text transform="translate(111.8,656.6) scale(1.045,1)" text-anchor="end" font-size="24" font-family="Liberation Sans, Arial, sans-serif" fill="#111" stroke="#111" stroke-width="0.35">0.000</text>
<text transform="translate(111.8,592.7) scale(1.045,1)" text-anchor="end" font-size="24" font-family="Liberation Sans, Arial, sans-serif" fill="#111" stroke="#111" stroke-width="0.35">0.005</text>
<text transform="translate(111.8,528.8) scale(1.045,1)" text-anchor="end" font-size="24" font-family="Liberation Sans, Arial, sans-serif" fill="#111" stroke="#111" stroke-width="0.35">0.010</text>
<text transform="translate(111.8,464.9) scale(1.045,1)" text-anchor="end" font-size="24" font-family="Liberation Sans, Arial, sans-serif" fill="#111" stroke="#111" stroke-width="0.35">0.015</text>
<text transform="translate(111.8,401.0) scale(1.045,1)" text-anchor="end" font-size="24" font-family="Liberation Sans, Arial, sans-serif" fill="#111" stroke="#111" stroke-width="0.35">0.020</text>
<text transform="translate(111.8,337.1) scale(1.045,1)" text-anchor="end" font-size="24" font-family="Liberation Sans, Arial, sans-serif" fill="#111" stroke="#111" stroke-width="0.35">0.025</text>
<text transform="translate(111.8,273.2) scale(1.045,1)" text-anchor="end" font-size="24" font-family="Liberation Sans, Arial, sans-serif" fill="#111" stroke="#111" stroke-width="0.35">0.030</text>
<text transform="translate(111.8,209.3) scale(1.045,1)" text-anchor="end" font-size="24" font-family="Liberation Sans, Arial, sans-serif" fill="#111" stroke="#111" stroke-width="0.35">0.035</text>
<text transform="translate(111.8,145.4) scale(1.045,1)" text-anchor="end" font-size="24" font-family="Liberation Sans, Arial, sans-serif" fill="#111" stroke="#111" stroke-width="0.35">0.040</text>
<text transform="translate(111.8,81.5) scale(1.045,1)" text-anchor="end" font-size="24" font-family="Liberation Sans, Arial, sans-serif" fill="#111" stroke="#111" stroke-width="0.35">0.045</text>
<text transform="translate(111.8,17.6) scale(1.045,1)" text-anchor="end" font-size="24" font-family="Liberation Sans, Arial, sans-serif" fill="#111" stroke="#111" stroke-width="0.35">0.050</text>
<text transform="translate(192.0,749.8) scale(1.045,1)" text-anchor="middle" font-size="24" font-family="Liberation Sans, Arial, sans-serif" fill="#111" stroke="#111" stroke-width="0.35">-1.0</text>
<text transform="translate(319.4,749.8) scale(1.045,1)" text-anchor="middle" font-size="24" font-family="Liberation Sans, Arial, sans-serif" fill="#111" stroke="#111" stroke-width="0.35">-0.5</text>
<text transform="translate(446.7,749.8) scale(1.045,1)" text-anchor="middle" font-size="24" font-family="Liberation Sans, Arial, sans-serif" fill="#111" stroke="#111" stroke-width="0.35">0.0</text>
<text transform="translate(574.0,749.8) scale(1.045,1)" text-anchor="middle" font-size="24" font-family="Liberation Sans, Arial, sans-serif" fill="#111" stroke="#111" stroke-width="0.35">0.5</text>
<text transform="translate(701.4,749.8) scale(1.045,1)" text-anchor="middle" font-size="24" font-family="Liberation Sans, Arial, sans-serif" fill="#111" stroke="#111" stroke-width="0.35">1.0</text>
<text transform="translate(828.7,749.8) scale(1.045,1)" text-anchor="middle" font-size="24" font-family="Liberation Sans, Arial, sans-serif" fill="#111" stroke="#111" stroke-width="0.35">1.5</text>
<text transform="translate(956.0,749.8) scale(1.045,1)" text-anchor="middle" font-size="24" font-family="Liberation Sans, Arial, sans-serif" fill="#111" stroke="#111" stroke-width="0.35">2.0</text>
<text transform="translate(22.6,381.7) rotate(-90)" text-anchor="middle" font-size="29.2" font-family="Liberation Sans, Arial, sans-serif" fill="#111" stroke="#111" stroke-width="0.35">gm (mA / V)</text>
<text transform="translate(503.4,796.6) scale(1.05,1)" font-size="29" font-family="Liberation Sans, Arial, sans-serif" font-weight="bold" fill="#111">V</text>
<text transform="translate(522.6,805.6) scale(1.02,1)" font-size="17" font-family="Liberation Sans, Arial, sans-serif" font-weight="bold" fill="#111">GS</text>
<text transform="translate(548.6,796.6) scale(1.03,1)" font-size="29" font-family="Liberation Sans, Arial, sans-serif" font-weight="bold" fill="#111">-</text>
<text transform="translate(556.6,796.6) scale(1.05,1)" font-size="29" font-family="Liberation Sans, Arial, sans-serif" font-weight="bold" fill="#111">V</text>
<text transform="translate(578.2,806.0) scale(1.02,1)" font-size="17" font-family="Liberation Sans, Arial, sans-serif" font-weight="bold" fill="#111">TH</text>
<text transform="translate(605.9,796.6) scale(1.05,1)" font-size="29" font-family="Liberation Sans, Arial, sans-serif" font-weight="bold" fill="#111">(V)</text>
<line x1="147.6" y1="36.3" x2="167.6" y2="36.3" stroke="#888" stroke-width="1.1"/>
<line x1="188.4" y1="36.3" x2="208.6" y2="36.3" stroke="#888" stroke-width="1.1"/>
<rect x="172.65" y="31.60" width="10.3" height="9.5" fill="#000"/>
<text x="214.3" y="45.5" font-size="26.9" font-family="Liberation Sans, Arial, sans-serif" fill="#111" stroke="#111" stroke-width="0.35">ISFET</text>
<line x1="147.6" y1="68.8" x2="167.6" y2="68.8" stroke="#999" stroke-width="1.1" stroke-dasharray="4 2.5"/>
<line x1="188.4" y1="68.8" x2="208.6" y2="68.8" stroke="#999" stroke-width="1.1" stroke-dasharray="4 2.5"/>
<circle cx="177.8" cy="68.8" r="5.2" fill="#fff" stroke="#333" stroke-width="1.5"/>
<text x="214.3" y="78.2" font-size="26.9" font-family="Liberation Sans, Arial, sans-serif" fill="#111" stroke="#111" stroke-width="0.35">EnFET with Urease/Nafion=5:1</text>
<line x1="147.6" y1="101.6" x2="167.6" y2="101.6" stroke="#bbb" stroke-width="1.1" stroke-dasharray="1.2 1.8"/>
<line x1="188.4" y1="101.6" x2="208.6" y2="101.6" stroke="#bbb" stroke-width="1.1" stroke-dasharray="1.2 1.8"/>
<polygon points="171.3,105.6 184.3,105.6 177.8,93.8" fill="#000"/>
<text x="214.3" y="110.8" font-size="26.9" font-family="Liberation Sans, Arial, sans-serif" fill="#111" stroke="#111" stroke-width="0.35">REFET with photoresist/Nafion=1:1</text>
<line x1="147.6" y1="134.6" x2="167.6" y2="134.6" stroke="#aaa" stroke-width="1.1" stroke-dasharray="4 2 1.5 2"/>
<line x1="188.4" y1="134.6" x2="208.6" y2="134.6" stroke="#aaa" stroke-width="1.1" stroke-dasharray="4 2 1.5 2"/>
<polygon points="171.9,131.3 183.7,131.3 177.8,142.2" fill="none" stroke="#a0a0a0" stroke-width="1.0"/><line x1="171.3" y1="131.4" x2="184.3" y2="131.4" stroke="#aaa" stroke-width="2.2"/>
<text x="214.3" y="143.9" font-size="26.9" font-family="Liberation Sans, Arial, sans-serif" fill="#111" stroke="#111" stroke-width="0.35">REFET with photoresist/Nafion=3:1</text>
<line x1="147.6" y1="167.3" x2="167.6" y2="167.3" stroke="#888" stroke-width="1.1" stroke-dasharray="5 2 1.5 2 1.5 2"/>
<line x1="188.4" y1="167.3" x2="208.6" y2="167.3" stroke="#888" stroke-width="1.1" stroke-dasharray="5 2 1.5 2 1.5 2"/>
<polygon points="177.8,159.3 185.1,167.3 177.8,175.3 170.6,167.3" fill="none" stroke="#b0b0b0" stroke-width="1.0"/><path d="M171.6,167.3H184.1" stroke="#a0a0a0" stroke-width="1.0"/><path d="M177.8,160.3V174.3" stroke="#808080" stroke-width="1.2"/><path d="M174.2,163.8V170.8M181.4,163.8V170.8" stroke="#c8c8c8" stroke-width="0.9"/>
<text x="214.3" y="176.5" font-size="26.9" font-family="Liberation Sans, Arial, sans-serif" fill="#111" stroke="#111" stroke-width="0.35">REFET with photoresist/Nafion=5:1</text>
</svg>
</body></html>
